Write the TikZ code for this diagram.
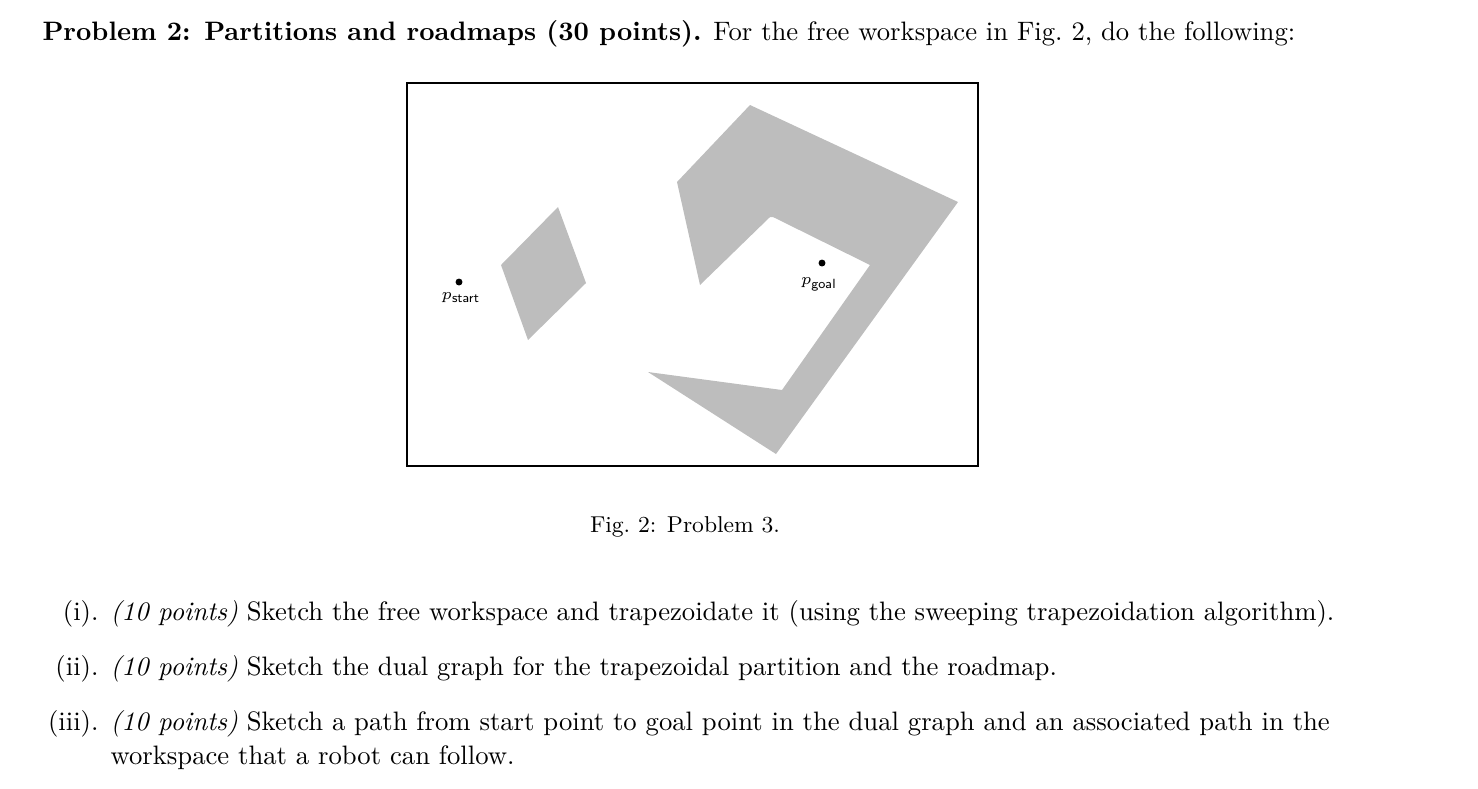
\documentclass[tikz,border=0pt]{standalone}
\begin{document}
\begin{tikzpicture}[x=0.375pt,y=-0.375pt,
  obs/.style={fill=black!26,draw=none},
  txt/.style={inner sep=0pt,font=\fontsize{10}{12}\selectfont},
  dot/.style={circle,fill=black,inner sep=0pt,minimum size=2.6pt}]
\useasboundingbox (0,0) rectangle (1478,788);
\node[txt,anchor=base west] (title) at (42,40) {\textbf{Problem 2: Partitions and roadmaps (30 points).} For the free workspace in Fig.~2, do the following:};
\draw[line width=0.6pt] (407,83) rectangle (978,466);
\fill[obs] (501,265) -- (558,207) -- (586,283) -- (528,340) -- cycle;
\fill[obs] (677,182) -- (750,105) -- (958,202) -- (776,454) -- (648,372) -- (782,390) -- (870,265) -- (773,217) -- (770,217) -- (700,285) -- cycle;
\node[dot] (ps) at (459,282) {};
\node[txt,font=\fontsize{6}{7}\selectfont] (pslab) at (461,298) {$p_{\mathsf{start}}$};
\node[dot] (pg) at (822,263) {};
\node[txt,font=\fontsize{6}{7}\selectfont] (pglab) at (819,284) {$p_{\mathsf{goal}}$};
\node[txt,anchor=base,font=\fontsize{8.6}{10}\selectfont] (cap) at (685,532) {Fig.~2: Problem 3.};
\node[txt,anchor=base east] (l1) at (99,620) {(i).};
\node[txt,anchor=base west] (t1) at (110,620) {\textit{(10 points)} Sketch the free workspace and trapezoidate it (using the sweeping trapezoidation algorithm).};
\node[txt,anchor=base east] (l2) at (99,675) {(ii).};
\node[txt,anchor=base west] (t2) at (110,675) {\textit{(10 points)} Sketch the dual graph for the trapezoidal partition and the roadmap.};
\node[txt,anchor=base east] (l3) at (99,730) {(iii).};
\node[txt,anchor=base west] (t3) at (110,730) {\textit{(10 points)} Sketch a path from start point to goal point in the dual graph and an associated path in the};
\node[txt,anchor=base west] (t4) at (110,764) {workspace that a robot can follow.};
\end{tikzpicture}
\end{document}
